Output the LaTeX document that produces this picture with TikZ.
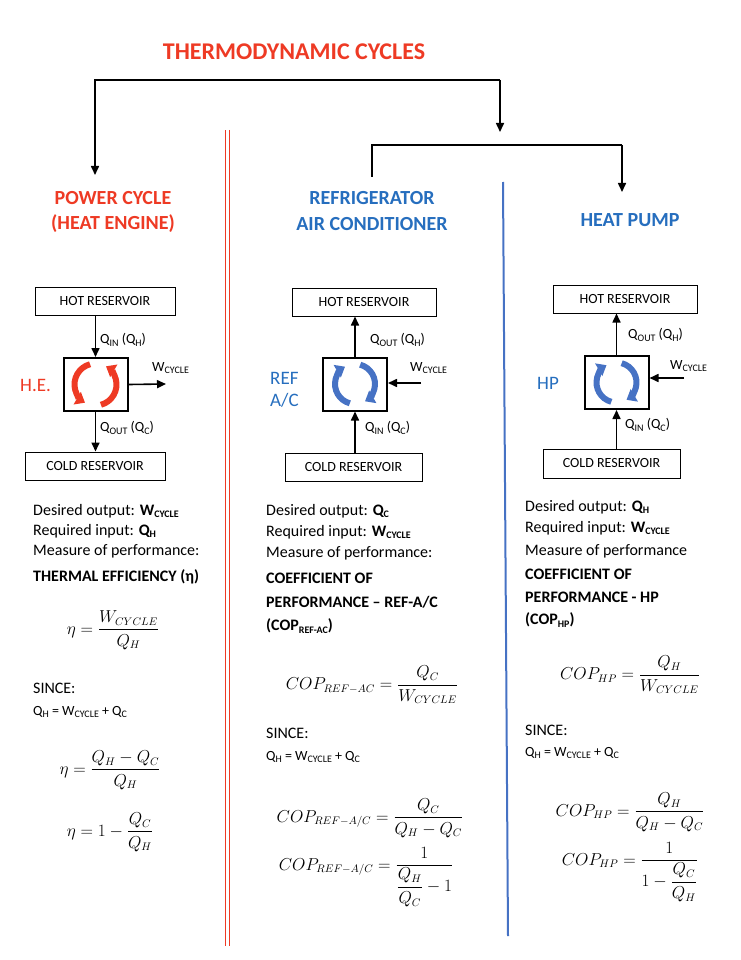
\documentclass[tikz,border=0pt]{standalone}
\usepackage{amsmath}
\usepackage{fontspec}
\setmainfont{Carlito}
\usetikzlibrary{arrows.meta}
\definecolor{tred}{RGB}{238,58,36}
\definecolor{tblue}{RGB}{38,110,190}
\definecolor{cblue}{RGB}{70,114,196}
\newcommand{\lsub}[1]{\raisebox{-0.35ex}{\fontsize{10}{10}\selectfont #1}}
\begin{document}
\begin{tikzpicture}[x=1pt,y=-1pt,
  box/.style={draw,line width=1pt,inner sep=0pt,font=\fontsize{14}{14}\selectfont},
  sq/.style={draw,line width=2pt,minimum width=64pt,minimum height=53pt,inner sep=0pt},
  arr/.style={line width=1.6pt,-{Triangle[length=9pt,width=8pt]}},
  lab/.style={anchor=west,font=\fontsize{14}{14}\selectfont,inner sep=0pt},
  body/.style={anchor=west,font=\fontsize{16}{16}\selectfont,inner sep=0pt},
  small/.style={anchor=west,font=\fontsize{14}{14}\selectfont,inner sep=0pt},
  head/.style={font=\fontsize{20}{20}\selectfont\bfseries,inner sep=0pt},
  eq/.style={font=\fontsize{16}{16}\selectfont,inner sep=0pt},
  cycR/.style={line width=6pt,tred,-{Triangle[length=9pt,width=14pt]}},
  cycB/.style={line width=6pt,cblue,-{Triangle[length=9pt,width=14pt]}}]
\useasboundingbox (0,0) rectangle (740,960);
\node[tred,font=\fontsize{24}{24}\selectfont\bfseries,inner sep=0pt] (title) at (294,52) {THERMODYNAMIC CYCLES};
\coordinate (t1) at (95,80); \coordinate (t2) at (500,80);
\coordinate (e1) at (95,175); \coordinate (e2) at (500,132);
\draw[arr] (e2|-t1) -- (e2);
\draw[arr] (t2) -- (t1) -- (e1);
\coordinate (u1) at (372,145); \coordinate (u2) at (622,145);
\coordinate (f1) at (372,177); \coordinate (f2) at (622,192);
\draw[line width=1.6pt] (f1) -- (u1) -- (u2);
\draw[arr] (u2) -- (f2);
\draw[tred,line width=1pt,double=white,double distance=2.5pt] (227.5,130) -- (227.5,946);
\draw[cblue,line width=2pt] (503,182) -- (508,936);
% headings
\node[head,tred] (h1a) at (113,198) {POWER CYCLE};
\node[head,tred] (h1b) at (113,224) {(HEAT ENGINE)};
\node[head,tblue] (h2a) at (372,198) {REFRIGERATOR};
\node[head,tblue] (h2b) at (372,224) {AIR CONDITIONER};
\node[head,tblue] (h3) at (630,220) {HEAT PUMP};
% col1 diagram
\node[box,minimum width=140pt,minimum height=28pt] (hot1) at (105,301) {HOT RESERVOIR};
\node[sq] (s1) at (95.5,384.5) {};
\node[box,minimum width=140pt,minimum height=28pt] (cold1) at (95,466) {COLD RESERVOIR};
\draw[arr] (hot1.south-|s1) -- (s1.north);
\draw[arr] (s1.south) -- (cold1.north-|s1);
\coordinate (w1) at (166,384);
\draw[arr] (s1.east) -- (w1);
\draw[cycR] (s1.center)++(75:21) arc (75:-60:21);
\draw[cycR] (s1.center)++(-105:21) arc (-105:-240:21);
\node[lab] (l1a) at (100,340) {Q\lsub{IN} (Q\lsub{H})};
\node[lab] (l1b) at (152,368) {W\lsub{CYCLE}};
\node[lab] (l1c) at (100,428) {Q\lsub{OUT} (Q\lsub{C})};
\node[anchor=west,tred,font=\fontsize{19}{19}\selectfont,inner sep=0pt] (he) at (20,385) {H.E.};
% col2 diagram
\node[box,minimum width=144pt,minimum height=28pt] (hot2) at (364,302) {HOT RESERVOIR};
\node[sq] (s2) at (355,384) {};
\node[box,minimum width=137pt,minimum height=28pt] (cold2) at (353.5,467) {COLD RESERVOIR};
\draw[arr] (s2.north) -- (hot2.south-|s2);
\draw[arr] (cold2.north-|s2) -- (s2.south);
\coordinate (w2) at (421,383);
\draw[arr] (w2) -- (s2.east|-w2);
\draw[cycB] (s2.center)++(105:20) arc (105:240:20);
\draw[cycB] (s2.center)++(-75:20) arc (-75:60:20);
\node[lab] (l2a) at (370,340) {Q\lsub{OUT} (Q\lsub{H})};
\node[lab] (l2b) at (410,368) {W\lsub{CYCLE}};
\node[lab] (l2c) at (365,428) {Q\lsub{IN} (Q\lsub{C})};
\node[anchor=west,tblue,font=\fontsize{19}{19}\selectfont,inner sep=0pt,align=left] (ref) at (270,390) {REF\\[3pt]A/C};
% col3 diagram
\node[box,minimum width=144pt,minimum height=28pt] (hot3) at (625,299) {HOT RESERVOIR};
\node[sq] (s3) at (616.5,382.5) {};
\node[box,minimum width=137pt,minimum height=29pt] (cold3) at (611.5,463.5) {COLD RESERVOIR};
\draw[arr] (s3.north) -- (hot3.south-|s3);
\draw[arr] (cold3.north-|s3) -- (s3.south);
\coordinate (w3) at (684,378);
\draw[arr] (w3) -- (s3.east|-w3);
\draw[cycB] (s3.center)++(105:20) arc (105:240:20);
\draw[cycB] (s3.center)++(-75:20) arc (-75:60:20);
\node[lab] (l3a) at (628,335) {Q\lsub{OUT} (Q\lsub{H})};
\node[lab] (l3b) at (670,366) {W\lsub{CYCLE}};
\node[lab] (l3c) at (625,425) {Q\lsub{IN} (Q\lsub{C})};
\node[anchor=west,tblue,font=\fontsize{19}{19}\selectfont,inner sep=0pt] (hp) at (537,383) {HP};
% col1 text
\node[body] (a1) at (33,511) {Desired output: \textbf{W\lsub{CYCLE}}};
\node[body] (a2) at (33,531) {Required input: \textbf{Q\lsub{H}}};
\node[body] (a3) at (33,551) {Measure of performance:};
\node[body] (a4) at (33,577) {\textbf{THERMAL EFFICIENCY (η)}};
\node[eq] (a5) at (113,630) {$\eta=\dfrac{W_{CYCLE}}{Q_H}$};
\node[body] (a6) at (33,688) {SINCE:};
\node[small] (a7) at (33,712) {Q\lsub{H} = W\lsub{CYCLE} + Q\lsub{C}};
\node[eq] (a8) at (110,770) {$\eta=\dfrac{Q_H-Q_C}{Q_H}$};
\node[eq] (a9) at (110,832) {$\eta=1-\dfrac{Q_C}{Q_H}$};
% col2 text
\node[body] (b1) at (266,511) {Desired output: \textbf{Q\lsub{C}}};
\node[body] (b2) at (266,532) {Required input: \textbf{W\lsub{CYCLE}}};
\node[body] (b3) at (266,553) {Measure of performance:};
\node[body] (b4) at (266,578) {\textbf{COEFFICIENT OF}};
\node[body] (b5) at (266,602) {\textbf{PERFORMANCE – REF-A/C}};
\node[body] (b6) at (266,626) {\textbf{(COP\lsub{REF-AC})}};
\node[eq] (b7) at (372,685) {$COP_{REF-AC}=\dfrac{Q_C}{W_{CYCLE}}$};
\node[body] (b8) at (266,733) {SINCE:};
\node[small] (b9) at (266,757) {Q\lsub{H} = W\lsub{CYCLE} + Q\lsub{C}};
\node[eq] (b10) at (370,818) {$COP_{REF-A/C}=\dfrac{Q_C}{Q_H-Q_C}$};
\node[eq] (b11) at (366,877) {$COP_{REF-A/C}=\dfrac{1}{\dfrac{Q_H}{Q_C}-1}$};
% col3 text
\node[body] (c1) at (525,507) {Desired output: \textbf{Q\lsub{H}}};
\node[body] (c2) at (525,528) {Required input: \textbf{W\lsub{CYCLE}}};
\node[body] (c3) at (525,551) {Measure of performance};
\node[body] (c4) at (525,574) {\textbf{COEFFICIENT OF}};
\node[body] (c5) at (525,597) {\textbf{PERFORMANCE - HP}};
\node[body] (c6) at (525,620) {\textbf{(COP\lsub{HP})}};
\node[eq] (c7) at (630,675) {$COP_{HP}=\dfrac{Q_H}{W_{CYCLE}}$};
\node[body] (c8) at (525,730) {SINCE:};
\node[small] (c9) at (525,753) {Q\lsub{H} = W\lsub{CYCLE} + Q\lsub{C}};
\node[eq] (c10) at (630,812) {$COP_{HP}=\dfrac{Q_H}{Q_H-Q_C}$};
\node[eq] (c11) at (630,872) {$COP_{HP}=\dfrac{1}{1-\dfrac{Q_C}{Q_H}}$};
\end{tikzpicture}
\end{document}
